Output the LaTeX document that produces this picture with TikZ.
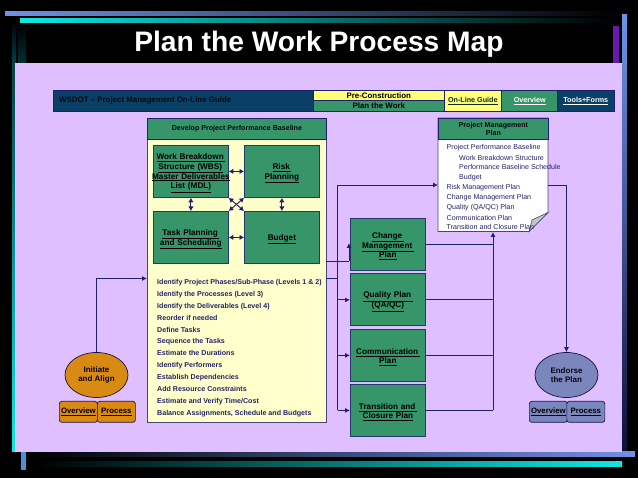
\documentclass[tikz,border=0pt]{standalone}
\usepackage{fontspec}
\setmainfont{Liberation Sans}
\usetikzlibrary{arrows.meta,shapes.geometric}
\definecolor{lilac}{HTML}{DFBFFF}
\definecolor{grn}{HTML}{36966A}
\definecolor{cream}{HTML}{FFFFCC}
\definecolor{navy}{HTML}{1F1F70}
\definecolor{txt}{HTML}{23236B}
\definecolor{teal}{HTML}{0A3F66}
\definecolor{orng}{HTML}{D98A12}
\definecolor{peri}{HTML}{7B86BC}
\definecolor{blueb}{HTML}{6F92E6}
\definecolor{cyanb}{HTML}{0FE8E4}
\tikzset{
 x=1pt,y=-1pt,
 gbox/.style={draw=navy!80!grn,line width=.8pt,fill=grn,align=center,font=\bfseries\fontsize{8.2}{9.7}\selectfont,text=black,inner sep=0pt,minimum width=75pt,minimum height=52pt,text width=75pt,execute at begin node={\rule{0pt}{9.5pt}}},
 con/.style={draw=navy,line width=.9pt},
 arr/.style={con,-{Latex[length=5pt,width=5pt]}},
 dbl/.style={draw=navy,line width=.9pt,{Latex[length=4.5pt,width=5.5pt]}-{Latex[length=4.5pt,width=5.5pt]}},
 oval/.style={draw=navy!60!black,line width=.7pt,ellipse,align=center,font=\bfseries\fontsize{8}{9.7}\selectfont,text=black!85!navy,inner sep=0pt,minimum width=63pt,minimum height=45pt},
 pill/.style={draw=navy!70!black,line width=.7pt,rounded corners=2.5pt,font=\bfseries\fontsize{7.8}{9}\selectfont,text=black,inner sep=0pt,minimum width=38pt,minimum height=21pt},
 ln/.style={anchor=west,font=\bfseries\fontsize{7.1}{8}\selectfont,text=txt,inner sep=0pt},
 pl/.style={anchor=west,font=\fontsize{7.1}{8}\selectfont,text=txt,inner sep=0pt},
 barlbl/.style={font=\bfseries\fontsize{7.2}{8}\selectfont,inner sep=0pt},
 barbig/.style={font=\bfseries\fontsize{7.9}{8}\selectfont,inner sep=0pt},
}
\newcommand{\ul}[1]{\underline{#1}}
\begin{document}
\begin{tikzpicture}
\useasboundingbox (0,0) rectangle (638,478);
\fill[black] (0,0) rectangle (638,478);
% decorative bars
\shade[left color=blueb,right color=black] (5,12) rectangle (620,16);
\shade[left color=cyanb,right color=black] (20,19) rectangle (616,23);
\shade[top color=black,bottom color=teal!40!cyanb!40!black] (12,20) rectangle (16,64);
\shade[top color=black,bottom color=teal!40!cyanb!30!black] (18,24) rectangle (26,64);
\shade[top color=teal!40!cyanb!40!black,bottom color=cyanb] (12,64) rectangle (15,452);
\shade[top color=blueb,bottom color=navy!50!black] (622,15) rectangle (627,452);
\fill[violet!70!blue!90!white] (613,26) rectangle (619,63);
\shade[left color=black,right color=blueb] (27,452) rectangle (635,457);
\shade[left color=black,right color=cyanb] (35,462) rectangle (622,467);
\fill[cyan!60!blue!75!white] (21,452) rectangle (26,470);
\fill[lilac] (15,63) rectangle (622,452);
\node[font=\bfseries\fontsize{28.2}{32}\selectfont,text=white,inner sep=0pt,anchor=base] (title) at (319,52) {Plan the Work Process Map};
% nav bar
\node[draw=navy,line width=.6pt,fill=teal,minimum width=260pt,minimum height=21pt,inner sep=0pt,anchor=north west] (nav) at (53,90) {};
\node[barbig,text=black!85!teal,anchor=west] (navt) at (59,100.5) {WSDOT -- Project Management On-Line Guide};
\node[draw=navy,line width=.6pt,fill=cream!60!yellow,minimum width=131pt,minimum height=10.5pt,inner sep=0pt,anchor=north west,barbig,text=black] (pre) at (313,90) {Pre-Construction};
\node[draw=navy,line width=.6pt,fill=grn,minimum width=131pt,minimum height=10.5pt,inner sep=0pt,anchor=north west,barbig,text=black] (ptw) at (313,100.5) {Plan the Work};
\node[draw=navy,line width=.6pt,fill=cream!60!yellow,minimum width=57pt,minimum height=21pt,inner sep=0pt,anchor=north west,barlbl,text=black!70!grn] (olg) at (444,90) {\ul{On-Line Guide}};
\node[draw=navy,line width=.6pt,fill=grn,minimum width=57pt,minimum height=21pt,inner sep=0pt,anchor=north west,barlbl,text=white] (ovw) at (501,90) {\ul{Overview}};
\node[draw=navy,line width=.6pt,fill=teal,minimum width=57pt,minimum height=21pt,inner sep=0pt,anchor=north west,barlbl,text=white] (tf) at (557,90) {\ul{Tools+Forms}};
% baseline panel
\node[draw=navy!60!gray,line width=.8pt,fill=cream,minimum width=179pt,minimum height=304pt,inner sep=0pt,anchor=north west] (panel) at (147,118) {};
\node[draw=navy,line width=.8pt,fill=grn,minimum width=179pt,minimum height=21pt,inner sep=0pt,anchor=north west,font=\bfseries\fontsize{7.1}{8}\selectfont,text=black!80!navy] (dev) at (147,118) {Develop Project Performance Baseline};
\node[gbox,anchor=north west] (wbs) at (153,145) {\ul{Work Breakdown\,}\\\ul{Structure (WBS)\,}\\\makebox[75pt]{\ul{Master Deliverables}}\\\ul{List (MDL)}};
\node[gbox,anchor=north west] (risk) at (244,145) {\ul{Risk\,}\\\ul{Planning}};
\node[gbox,anchor=north west] (task) at (153,211) {\ul{Task Planning\,}\\\ul{and Scheduling}};
\node[gbox,anchor=north west] (budget) at (244,211) {\ul{Budget}};
\draw[dbl] (wbs.east) -- (risk.west);
\draw[dbl] (task.east) -- (budget.west);
\draw[dbl] (wbs.south) -- (task.north);
\draw[dbl] (risk.south) -- (budget.north);
\draw[dbl] (wbs.south east) -- (budget.north west);
\draw[dbl] (risk.south west) -- (task.north east);
% list
\foreach \t [count=\i from 0] in {Identify Project Phases/Sub-Phase (Levels 1 \& 2),Identify the Processes (Level 3),Identify the Deliverables (Level 4),Reorder if needed,Define Tasks,Sequence the Tasks,Estimate the Durations,Identify Performers,Establish Dependencies,Add Resource Constraints,Estimate and Verify Time/Cost,{Balance Assignments, Schedule and Budgets}}
  \node[ln,text height=5.2pt,text depth=1.5pt] (l\i) at (157,{282.5+\i*11.93}) {\t};
% plan column
\node[gbox,anchor=north west] (chg) at (350,218) {\ul{Change\,}\\\ul{Management\,}\\\ul{Plan}};
\node[gbox,anchor=north west] (qa) at (350,273.5) {\ul{Quality Plan\,}\\\ul{(QA/QC)}};
\node[gbox,anchor=north west] (com) at (350,329) {\ul{Communication\,}\\\ul{Plan}};
\node[gbox,anchor=north west] (trn) at (350,384) {\ul{Transition and\,}\\\ul{Closure Plan}};
% PM plan document
\fill[white,draw=navy!60!gray,line width=.8pt] (438,118) -- (548,118) -- (548,212.5) -- (529,231.5) -- (438,231.5) -- cycle;
\fill[gray!45,draw=navy!60!gray,line width=.6pt] (548,212.5) -- (529,231.5) -- (532,220) -- cycle;
\node[draw=navy,line width=.8pt,fill=grn,minimum width=110pt,minimum height=21pt,inner sep=0pt,anchor=north west,align=center,font=\bfseries\fontsize{7.1}{8.4}\selectfont,text=black!85!navy] (pm) at (438,118) {Project Management\\Plan};
\coordinate (doc) at (438,185);
\coordinate (docb) at (493,232);
\coordinate (docr) at (548,185);
\node[pl] (d1) at (446.5,147.5) {Project Performance Baseline};
\node[pl] (d2) at (459,157.5) {Work Breakdown Structure};
\node[pl] (d3) at (459,167.3) {Performance Baseline Schedule};
\node[pl] (d4) at (459,177.5) {Budget};
\node[pl] (d5) at (446.5,188) {Risk Management Plan};
\node[pl] (d6) at (446.5,198) {Change Management Plan};
\node[pl] (d7) at (446.5,207.5) {Quality (QA/QC) Plan};
\node[pl] (d8) at (446.5,217.5) {Communication Plan};
\node[pl] (d9) at (446.5,227) {Transition and Closure Plan};
% ovals
\node[oval,fill=orng] (init) at (96.5,375) {Initiate\\and Align};
\node[pill,fill=orng,anchor=north west] (o1) at (59,401) {\ul{Overview}};
\node[pill,fill=orng,anchor=north west] (p1) at (97,401) {\ul{Process}};
\node[oval,fill=peri] (end) at (566.5,375) {Endorse\\the Plan};
\node[pill,fill=peri,anchor=north west] (o2) at (529,401) {\ul{Overview}};
\node[pill,fill=peri,anchor=north west] (p2) at (566.5,401) {\ul{Process}};
% connectors
\coordinate (pin) at (147,278.5);
\draw[arr] (init.north) |- (pin);
\coordinate (pout) at (326,278.5);
\coordinate (cj) at (337.5,278.5);
\draw[con] (pout) -- (cj);
\coordinate (ctop) at (337.5,185);
\draw[arr] (cj) -- (ctop) -- (doc);
\draw[con] (cj) -- (trn.west -| cj);
\draw[arr] (qa.west -| cj) -- (qa.west);
\draw[arr] (com.west -| cj) -- (com.west);
\draw[arr] (trn.west -| cj) -- (trn.west);
\coordinate (e1) at (326,261);
\coordinate (e2) at (349,261);
\coordinate (e3) at (349,243);
\draw[con] (e1) -- (e2);
\draw[arr] (e2) -- (e3);
\draw[con] (trn.east) -- (trn.east -| docb);
\draw[arr] (trn.east -| docb) -- (docb);
\draw[con] (chg.east) -- (chg.east -| docb);
\draw[con] (qa.east) -- (qa.east -| docb);
\draw[con] (com.east) -- (com.east -| docb);
\coordinate (rt) at (566.5,185);
\draw[con] (docr) -- (rt);
\draw[arr] (rt) -- (end.north);
\end{tikzpicture}
\end{document}
